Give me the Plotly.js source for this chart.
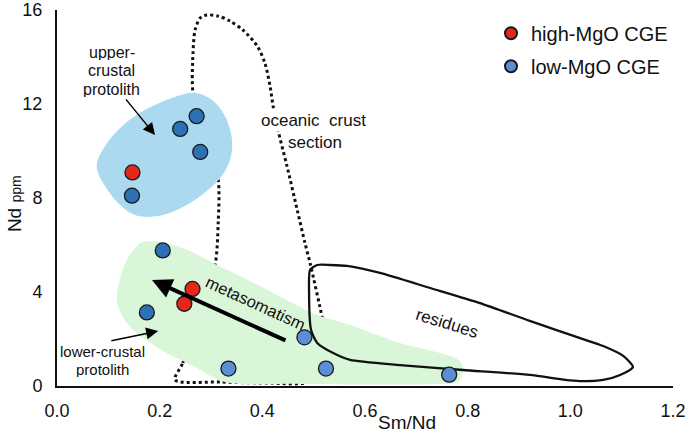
<!DOCTYPE html>
<html><head><meta charset="utf-8">
<script src="https://cdn.plot.ly/plotly-3.0.1.min.js"></script>
<style>html,body{margin:0;padding:0;background:#fff}#chart{width:685px;height:433px}</style>
</head><body><div id="chart"></div>
<script>
// ---- tick labels ----
const xTickVals = [0, 0.2, 0.4, 0.6, 0.8, 1.0, 1.2];
const xTickText = ['0.0', '0.2', '0.4', '0.6', '0.8', '1.0', '1.2'];
const yTickVals = [0, 4, 8, 12, 16];
const yTickText = ['0', '4', '8', '12', '16'];

// ---- series ----
const highMgOName = 'high-MgO CGE';
const highMgOX = [0.147, 0.248, 0.264];
const highMgOY = [9.09, 3.50, 4.13];

const lowMgOName = 'low-MgO CGE';
const lowMgOX = [0.334, 0.482, 0.524, 0.764, 0.240, 0.272, 0.279, 0.146, 0.206, 0.175];
const lowMgOY = [0.74, 2.07, 0.74, 0.48, 10.94, 11.48, 9.96, 8.10, 5.77, 3.13];

// ---- field outlines (Sm/Nd, Nd ppm) ----
const upperCrustX = [0.078, 0.0935, 0.127, 0.171, 0.224, 0.269, 0.302, 0.327, 0.341, 0.337, 0.321, 0.294, 0.249, 0.197, 0.152, 0.119, 0.0935, 0.080, 0.078];
const upperCrustY = [9.49, 10.21, 11.06, 11.74, 12.26, 12.47, 12.17, 11.49, 10.47, 9.62, 8.94, 8.34, 7.66, 7.23, 7.28, 7.79, 8.51, 9.06, 9.49];

const lowerCrustX = [0.245, 0.312, 0.376, 0.440, 0.507, 0.571, 0.668, 0.766, 0.785, 0.791, 0.781, 0.746, 0.473, 0.327, 0.265, 0.214, 0.162, 0.136, 0.117, 0.123, 0.138, 0.162, 0.187, 0.245];
const lowerCrustY = [5.87, 5.15, 4.47, 3.74, 3.02, 2.60, 1.83, 1.28, 1.06, 0.64, 0.17, 0.09, 0.09, 0.17, 0.85, 1.40, 2.13, 2.68, 3.53, 4.60, 5.45, 6.09, 6.17, 5.87];

const oceanicX = [0.230, 0.245, 0.279, 0.308, 0.314, 0.314, 0.288, 0.265, 0.265, 0.269, 0.279, 0.292, 0.314, 0.337, 0.362, 0.390, 0.405, 0.415, 0.421, 0.431, 0.448, 0.468, 0.483, 0.493, 0.518, 0.528, 0.493, 0.409, 0.318, 0.230];
const oceanicY = [0.26, 0.98, 3.11, 5.15, 6.94, 8.77, 10.77, 12.47, 14.17, 15.15, 15.66, 15.79, 15.74, 15.53, 15.15, 14.47, 13.74, 12.77, 11.91, 10.85, 9.36, 7.49, 6.09, 5.23, 2.77, 1.62, 0.21, 0.13, 0.17, 0.26];

const residuesX = [0.532, 0.507, 0.493, 0.491, 0.495, 0.507, 0.538, 0.571, 0.668, 0.791, 0.921, 0.990, 1.019, 1.064, 1.097, 1.122, 1.103, 1.064, 1.019, 0.921, 0.824, 0.727, 0.629, 0.565, 0.532];
const residuesY = [5.15, 5.15, 4.94, 3.96, 2.38, 1.83, 1.40, 1.11, 0.89, 0.68, 0.47, 0.26, 0.21, 0.26, 0.47, 0.81, 1.28, 1.70, 2.04, 2.77, 3.53, 4.17, 4.81, 5.11, 5.15];

// ---- labels ----
const upperLabel = ['upper-', 'crustal', 'protolith'];
const upperLabelX = 0.107;
const upperLabelY = [14.21, 13.43, 12.64];
const oceanicLabel = ['oceanic  crust', 'section'];
const oceanicLabelX = [0.499, 0.503];
const oceanicLabelY = [11.28, 10.38];
const lowerLabel = ['lower-crustal', 'protolith'];
const lowerLabelX = 0.088;
const lowerLabelY = [1.49, 0.72];

const FONT = 'Liberation Sans, Arial, Helvetica, sans-serif';

const traces = [
  {x: oceanicX, y: oceanicY, mode: 'lines', line: {color: '#111', width: 3, dash: 'dot', shape: 'spline', smoothing: 0.8}, showlegend: false, hoverinfo: 'skip'},
  {x: upperCrustX, y: upperCrustY, mode: 'lines', fill: 'toself', fillcolor: '#abd9ef', line: {width: 0, color: '#abd9ef', shape: 'spline', smoothing: 1}, showlegend: false, hoverinfo: 'skip'},
  {x: lowerCrustX, y: lowerCrustY, mode: 'lines', fill: 'toself', fillcolor: '#d9f6d8', line: {width: 0, color: '#d9f6d8', shape: 'spline', smoothing: 0.8}, showlegend: false, hoverinfo: 'skip'},
  {x: residuesX, y: residuesY, mode: 'lines', line: {color: '#111', width: 2.3, shape: 'spline', smoothing: 0.6}, showlegend: false, hoverinfo: 'skip'},
  {x: highMgOX, y: highMgOY, name: highMgOName, mode: 'markers', legendgroup: 'a',
   marker: {size: 15, color: '#e2271b', line: {color: '#1a1a1a', width: 1.3}}},
  {x: lowMgOX, y: lowMgOY, name: lowMgOName, mode: 'markers', legendgroup: 'b',
   marker: {size: 15, color: lowMgOX.map((v, i) => i < 4 ? '#5b8ed4' : '#2c70b5'), line: {color: '#1a1a1a', width: 1.3}}}
];

const annotations = [];
upperLabel.forEach((t, i) => annotations.push({x: upperLabelX, y: upperLabelY[i], xref: 'x', yref: 'y', text: t, showarrow: false, height: 16, font: {family: FONT, size: 16, color: '#111'}}));
oceanicLabel.forEach((t, i) => annotations.push({x: oceanicLabelX[i], y: oceanicLabelY[i], xref: 'x', yref: 'y', text: t, showarrow: false, bgcolor: '#ffffff', borderpad: 1, height: 19, font: {family: FONT, size: 17, color: '#111'}}));
lowerLabel.forEach((t, i) => annotations.push({x: lowerLabelX, y: lowerLabelY[i], xref: 'x', yref: 'y', text: t, showarrow: false, height: 16, font: {family: FONT, size: 15, color: '#111'}}));
annotations.push({x: 0.386, y: 3.53, xref: 'x', yref: 'y', text: 'metasomatism', textangle: 24.6, showarrow: false, font: {family: FONT, size: 16.5, color: '#111'}});
annotations.push({x: 0.760, y: 2.68, xref: 'x', yref: 'y', text: 'residues', textangle: 17, showarrow: false, font: {family: FONT, size: 17, color: '#111'}});
// arrows
annotations.push({x: 0.185, y: 4.51, ax: 0.448, ay: 1.91, xref: 'x', yref: 'y', axref: 'x', ayref: 'y', text: '', showarrow: true, arrowhead: 2, arrowsize: 1, arrowwidth: 4, arrowcolor: '#000', standoff: 0, startstandoff: 0});
annotations.push({x: 0.191, y: 10.68, ax: 0.132, ay: 12.26, xref: 'x', yref: 'y', axref: 'x', ayref: 'y', text: '', showarrow: true, arrowhead: 2, arrowsize: 1.6, arrowwidth: 1.5, arrowcolor: '#000', standoff: 0});
annotations.push({x: 0.197, y: 2.34, ax: 0.103, ay: 1.91, xref: 'x', yref: 'y', axref: 'x', ayref: 'y', text: '', showarrow: true, arrowhead: 2, arrowsize: 1.6, arrowwidth: 1.5, arrowcolor: '#000', standoff: 0});
// axis titles
annotations.push({x: 0.682, y: -0.098, xref: 'x', yref: 'paper', yanchor: 'middle', text: 'Sm/Nd', showarrow: false, font: {family: FONT, size: 19, color: '#111'}});
annotations.push({x: -0.0698, y: 7.74, xref: 'paper', yref: 'y', xanchor: 'center', text: 'Nd <span style="font-size:14px">ppm</span>', textangle: -90, showarrow: false, font: {family: FONT, size: 19, color: '#111'}});

const layout = {
  width: 685, height: 433,
  margin: {l: 57, r: 12, t: 10, b: 47},
  paper_bgcolor: '#fff', plot_bgcolor: '#fff',
  font: {family: FONT, color: '#111'},
  xaxis: {range: [0, 1.2], tickvals: xTickVals, ticktext: xTickText, showgrid: false, zeroline: false, showline: true, linecolor: '#111', linewidth: 2, ticks: '', ticklabelstandoff: 7, ticklabeloverflow: 'allow', tickfont: {family: FONT, size: 18, color: '#111'}},
  yaxis: {range: [0, 16], tickvals: yTickVals, ticktext: yTickText, showgrid: false, zeroline: false, showline: true, linecolor: '#111', linewidth: 2, ticks: '', ticklabelstandoff: 9, ticklabeloverflow: 'allow', tickfont: {family: FONT, size: 18, color: '#111'}},
  showlegend: true,
  legend: {x: 1.0, y: 0.99, xanchor: 'right', yanchor: 'top', bgcolor: 'rgba(0,0,0,0)', itemsizing: 'constant', tracegroupgap: 4, font: {family: FONT, size: 20, color: '#111'}},
  annotations: annotations
};

Plotly.newPlot('chart', traces, layout, {displayModeBar: false, staticPlot: true});
</script>
</body></html>
